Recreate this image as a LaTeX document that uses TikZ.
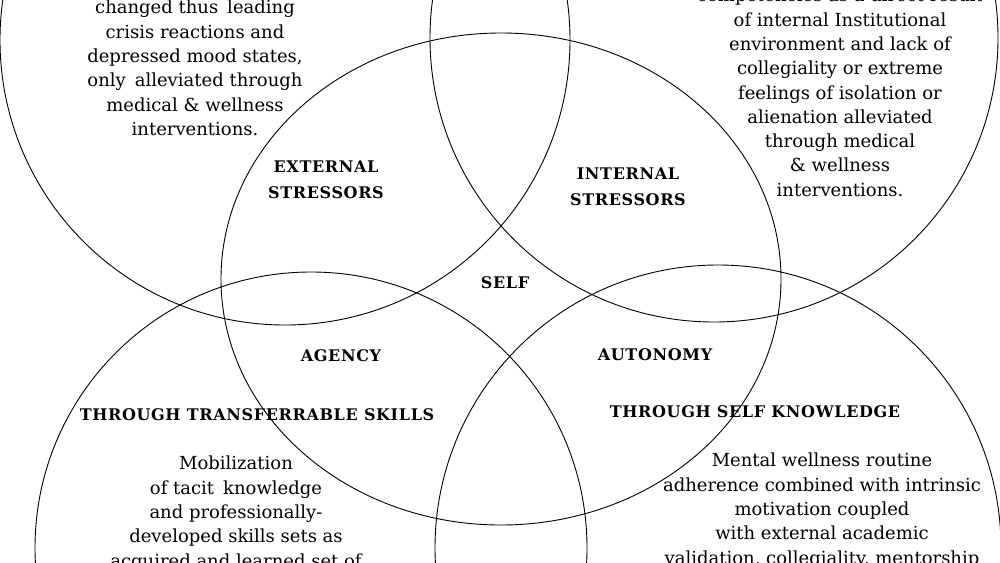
\documentclass[tikz,border=0pt]{standalone}
\usepackage{fontspec}
\setmainfont{DejaVu Serif}
\begin{document}
\begin{tikzpicture}[x=1pt,y=-1pt,
  ring/.style={draw=black, line width=0.9pt},
  body/.style={align=center, inner sep=0pt, anchor=north, font=\fontsize{18}{24.3}\selectfont},
  lab/.style={align=center, inner sep=0pt, font=\fontsize{16}{26}\selectfont\bfseries\addfontfeature{LetterSpace=4}}]
\useasboundingbox (0,0) rectangle (1000,562);
\clip (0,0) rectangle (1000,562);
\fill[white] (0,0) rectangle (1000,562);
\draw[ring] (285,40) circle (285);
\draw[ring] (714,38) circle (284);
\draw[ring] (311,548) circle (276);
\draw[ring] (718,548) circle (283);
\draw[ring] (501,279) ellipse (280 and 246);
\node[body] (tl) at (195,0) {changed thus\enspace leading\\crisis reactions and\\depressed mood states,\\only\enspace alleviated through\\medical \& wellness\\interventions.};
\node[body] (tr) at (840,-12) {competencies as a direct result\\of internal Institutional\\environment and lack of\\collegiality or extreme\\feelings of isolation or\\alienation alleviated\\through medical\\\& wellness\\interventions.};
\node[lab] (ext) at (326,180) {EXTERNAL\\STRESSORS};
\node[lab] (int) at (628,187) {INTERNAL\\STRESSORS};
\node[lab] (self) at (505,283) {SELF};
\node[lab] (ag) at (341,356) {AGENCY};
\node[lab] (au) at (655,355) {AUTONOMY};
\node[lab] (tts) at (257,415) {THROUGH TRANSFERRABLE SKILLS};
\node[lab] (tsk) at (755,412) {THROUGH SELF KNOWLEDGE};
\node[body] (bl) at (236,456) {Mobilization\\of tacit\enspace knowledge\\and professionally-\\developed skills sets as\\acquired and learned set of};
\node[body] (br) at (822,453) {Mental wellness routine\\adherence combined with intrinsic\\motivation coupled\\with external academic\\validation, collegiality, mentorship};
\end{tikzpicture}
\end{document}
